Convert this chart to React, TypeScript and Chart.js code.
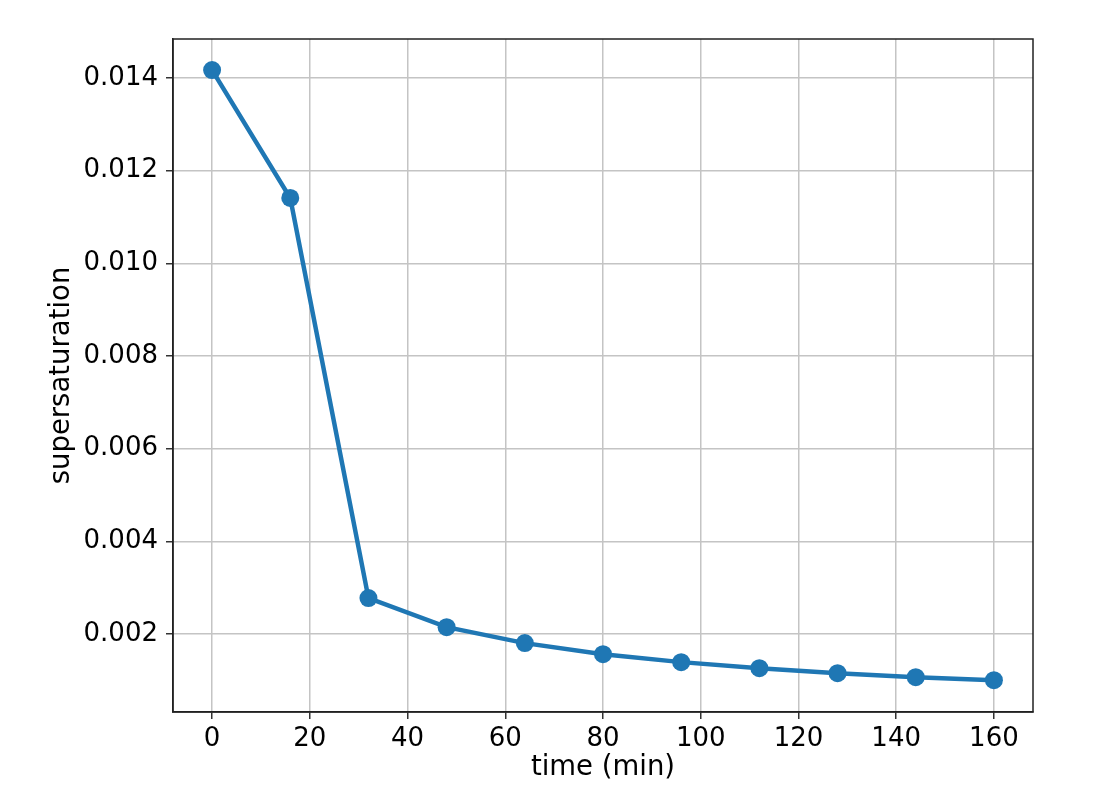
import React, { useRef, useEffect } from 'react';
import { Chart, registerables } from 'chart.js';

Chart.register(...registerables);

// time in minutes
const times = [0, 16, 32, 48, 64, 80, 96, 112, 128, 144, 160];
const supersaturation = [
  0.01417, 0.01141, 0.002777, 0.002151, 0.001806, 0.001568, 0.001396, 0.001266, 0.001158, 0.001072, 0.001007,
];
const xTicks = [0, 20, 40, 60, 80, 100, 120, 140, 160];
const yTicks = [0.002, 0.004, 0.006, 0.008, 0.01, 0.012, 0.014];

const FONT = 'DejaVu Sans';

const frame = {
  id: 'frame',
  afterDraw(chart: any) {
    const { ctx, chartArea } = chart;
    ctx.save();
    ctx.strokeStyle = '#222';
    ctx.lineWidth = 1.5;
    ctx.strokeRect(chartArea.left, chartArea.top, chartArea.right - chartArea.left, chartArea.bottom - chartArea.top);
    ctx.restore();
  },
};

const App: React.FC = () => {
  const canvasRef = useRef<HTMLCanvasElement>(null);

  useEffect(() => {
    if (!canvasRef.current) return;
    const ctx = canvasRef.current.getContext('2d');
    if (!ctx) return;
    const chart = new Chart(ctx, {
      type: 'line',
      data: {
        datasets: [
          {
            data: times.map((t, i) => ({ x: t, y: supersaturation[i] })),
            borderColor: '#1f77b4',
            backgroundColor: '#1f77b4',
            borderWidth: 4.5,
            pointRadius: 9,
            pointBorderWidth: 0,
            fill: false,
            tension: 0,
          },
        ],
      },
      options: {
        responsive: false,
        animation: false,
        layout: { padding: { left: 0, top: 39, right: 61, bottom: 0 } },
        plugins: { legend: { display: false }, tooltip: { enabled: false } },
        scales: {
          x: {
            type: 'linear',
            min: -8,
            max: 168,
            afterBuildTicks: (scale: any) => {
              scale.ticks = xTicks.map((v) => ({ value: v }));
            },
            afterFit: (scale: any) => {
              scale.height = 92;
            },
            grid: { color: '#c4c4c4', lineWidth: 1.5, tickLength: 7, tickColor: '#333', tickWidth: 1.5 },
            border: { display: true, color: '#222', width: 1.5 },
            ticks: {
              color: '#000',
              font: { family: FONT, size: 26 },
              padding: 5,
              maxRotation: 0,
              autoSkip: false,
            },
            title: {
              display: true,
              text: 'time (min)',
              color: '#000',
              font: { family: FONT, size: 27.5 },
              padding: { top: 0, bottom: 20 },
            },
          },
          y: {
            type: 'linear',
            min: 0.00032,
            max: 0.01484,
            afterBuildTicks: (scale: any) => {
              scale.ticks = yTicks.map((v) => ({ value: v }));
            },
            afterFit: (scale: any) => {
              scale.width = 173;
            },
            grid: { color: '#c4c4c4', lineWidth: 1.5, tickLength: 7, tickColor: '#333', tickWidth: 1.5 },
            border: { display: true, color: '#222', width: 1.5 },
            ticks: {
              color: '#000',
              font: { family: FONT, size: 26 },
              padding: 8,
              autoSkip: false,
              callback: (v: any) => Number(v).toFixed(3),
            },
            title: {
              display: true,
              text: 'supersaturation',
              color: '#000',
              font: { family: FONT, size: 27.5 },
              padding: { top: 45, bottom: 0 },
            },
          },
        },
      },
      plugins: [frame],
    });
    return () => {
      chart.destroy();
    };
  }, []);

  return (
    <div style={{ position: 'fixed', left: 0, top: 0, width: 1094, height: 804, background: '#fff' }}>
      <canvas ref={canvasRef} width={1094} height={804}></canvas>
    </div>
  );
};

export default App;
